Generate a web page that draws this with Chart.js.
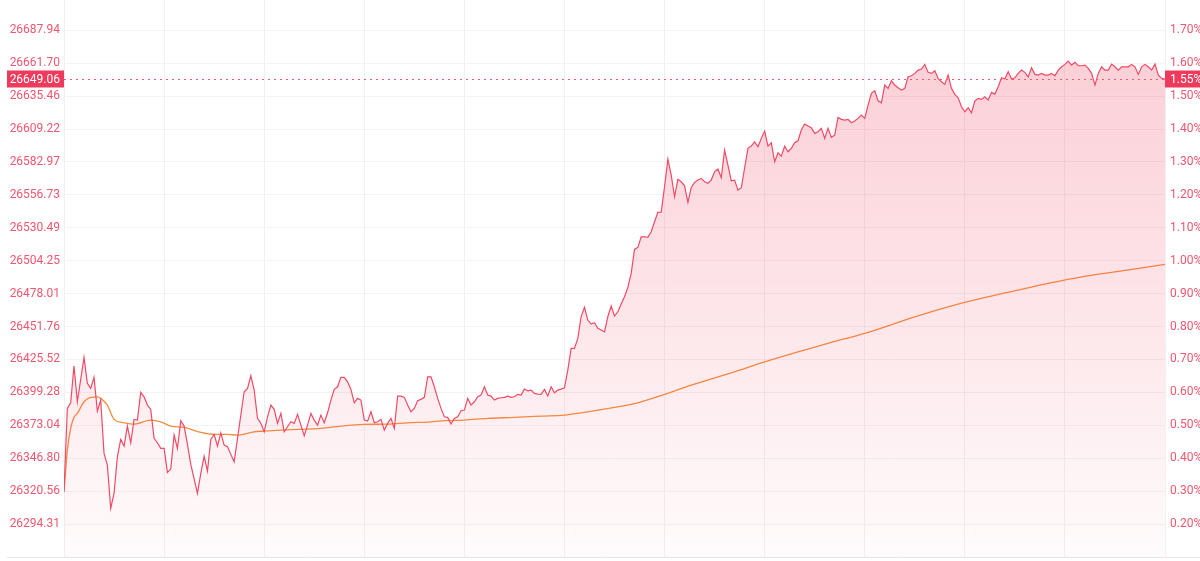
<!DOCTYPE html>
<html><head><meta charset="utf-8">
<script src="https://cdn.jsdelivr.net/npm/chart.js@4/dist/chart.umd.min.js"></script>
<style>html,body{margin:0;padding:0;background:#fff}#wrap{width:1200px;height:561px;position:relative}</style>
</head><body><div id="wrap"><canvas id="c"></canvas></div>
<script>
const prevClose = 26241.83;
const lastLabelPrice = 26649.06;

const minutes = [
0,1,2,3,4,6,7,8,9,10,11,12,13,14,15,16,17,18,19,20,21,22,23,24,25,26,27,28,29,30,
31,32,33,34,35,36,37,38,40,41,42,43,44,45,46,47,48,49,50,51,54,55,56,57,58,59,60,
61,62,63,64,65,66,67,68,69,70,71,72,73,74,75,76,77,78,79,80,81,82,83,84,85,86,87,88,89,90,
91,92,93,94,95,96,97,98,99,100,101,102,103,104,105,106,107,108,109,110,111,112,113,114,115,116,117,118,119,120,
121,122,123,124,125,126,127,128,129,130,131,132,133,134,135,136,137,138,139,140,141,142,143,144,145,146,147,148,149,150,
151,152,153,154,155,156,157,158,159,160,161,162,163,164,165,166,167,168,169,170,171,172,173,174,175,176,177,178,179,180,
181,182,183,184,185,186,187,188,189,190,191,192,193,194,195,196,197,198,199,200,201,202,203,205,206,207,208,209,210,
211,212,213,214,215,216,217,218,219,220,221,222,223,224,225,226,227,228,229,230,231,232,233,234,235,236,237,238,239,240,
241,242,243,244,245,246,247,248,249,250,251,252,253,254,255,256,257,258,259,260,261,262,263,264,265,266,267,268,269,270,
271,272,273,274,275,276,277,278,279,280,281,282,283,284,285,286,287,288,289,290,291,292,293,294,295,296,297,298,299,300,
301,302,303,304,305,306,307,308,309,310,311,312,313,314,315,316,317,318,319,320,321,322,323,324,325,326,327,328,329,330
];

const prices = [
26320.06,26386.54,26391.00,26420.26,26391.80,26427.19,26406.47,26402.48,26411.25,26384.39,26393.15,26350.67,26341.34,26306.82,26318.78,26347.96,26361.83,26356.49,26372.43,26359.12,26377.77,26377.21,26399.29,26395.78,26389.17,26385.74,26362.62,26359.12,26354.65,26354.65,
26335.52,26338.15,26365.25,26354.65,26376.65,26372.43,26357.84,26341.90,26318.78,26334.72,26348.51,26336.56,26361.83,26365.81,26356.49,26367.09,26357.28,26355.93,26349.87,26343.97,26399.77,26402.48,26412.53,26401.13,26378.57,26374.58,26367.89,
26379.84,26389.17,26385.74,26374.58,26382.55,26367.89,26371.87,26375.86,26374.58,26381.76,26373.23,26364.70,26373.23,26382.55,26377.21,26373.23,26381.20,26375.06,26383.03,26393.15,26401.68,26403.76,26411.25,26411.25,26407.74,26401.68,26391.00,26394.51,26393.15,26377.21,
26376.41,26383.83,26375.06,26375.86,26377.77,26369.24,26374.58,26378.57,26370.60,26396.34,26396.34,26395.31,26389.17,26383.83,26386.54,26392.60,26393.71,26395.31,26411.73,26411.73,26403.76,26394.51,26386.54,26379.84,26379.36,26374.02,26378.57,26379.84,26384.63,26385.18,
26394.51,26389.17,26391.80,26395.78,26397.14,26403.76,26397.14,26396.34,26393.15,26394.51,26394.99,26395.31,26396.34,26395.31,26395.78,26397.70,26397.14,26401.92,26400.57,26401.13,26398.50,26397.94,26397.70,26401.68,26396.34,26403.76,26398.97,26401.13,26401.92,26402.96,
26417.07,26434.37,26434.37,26442.34,26459.56,26467.05,26456.93,26453.74,26454.77,26450.31,26448.95,26447.60,26459.56,26468.09,26460.11,26463.54,26469.68,26475.50,26482.99,26494.15,26513.28,26514.88,26523.33,26523.33,26522.85,26527.31,26535.28,26542.78,26543.02,26563.18,
26585.26,26572.51,26555.21,26569.08,26567.17,26563.98,26550.75,26562.71,26566.69,26568.52,26569.88,26567.17,26565.90,26568.52,26575.14,26577.29,26570.36,26592.44,26580.48,26567.97,26568.52,26560.55,26562.39,26593.80,26595.63,26599.05,26595.07,26601.77,26607.58,
26595.63,26598.26,26583.11,26590.29,26587.66,26595.63,26591.08,26593.80,26598.26,26599.85,26608.38,26613.16,26611.57,26610.21,26605.75,26607.03,26609.74,26601.77,26609.74,26602.56,26604.40,26618.51,26616.91,26616.35,26616.91,26614.20,26615.56,26617.71,26620.34,26617.71,
26628.31,26637.64,26639.71,26631.74,26630.14,26644.25,26641.62,26647.68,26644.25,26642.10,26640.27,26641.62,26650.87,26651.67,26653.58,26656.21,26657.01,26660.75,26654.38,26653.58,26655.65,26649.59,26646.88,26644.81,26652.22,26641.62,26636.84,26634.13,26626.96,26622.97,
26626.16,26622.17,26631.50,26633.65,26632.85,26634.93,26632.30,26638.43,26637.08,26642.90,26650.07,26649.04,26654.85,26649.04,26650.07,26653.58,26656.21,26654.38,26650.63,26658.04,26652.78,26652.22,26653.58,26652.22,26652.22,26653.58,26651.67,26656.21,26658.84,26660.75,
26663.38,26660.20,26662.35,26659.64,26659.64,26660.20,26657.56,26653.58,26644.25,26653.58,26658.84,26656.21,26656.21,26660.99,26658.84,26656.21,26658.84,26658.84,26658.84,26660.75,26658.84,26652.78,26658.84,26660.75,26658.84,26656.21,26660.99,26652.22,26649.59,26649.06
];

const avgMinutes = [0,1,2,3,4,6,8,10,11,13,15,18,21,26,29,32,36,41,45,49,52,57,60,65,70,77,83,90,97,103,110,113,120,127,135,143,150,155,165,172,180,188,200,210,220,230,240,255,265,275,285,295,305,315,330];
const avgPrices = [26320.06,26353.30,26370.59,26379.36,26382.55,26391.80,26395.31,26395.78,26394.51,26389.17,26377.77,26375.06,26374.02,26377.21,26375.86,26372.43,26371.39,26367.41,26365.81,26365.81,26365.25,26367.89,26368.45,26369.24,26369.80,26370.59,26372.43,26373.78,26374.02,26375.06,26375.86,26376.65,26377.21,26378.57,26379.36,26380.40,26381.20,26383.03,26387.33,26391.00,26397.70,26405.11,26414.92,26423.68,26431.66,26439.15,26446.32,26459.56,26467.53,26474.22,26480.28,26486.18,26491.44,26495.43,26501.33];

const leftTicks = [26294.31,26320.56,26346.80,26373.04,26399.28,26425.52,26451.76,26478.01,26504.25,26530.49,26556.73,26582.97,26609.22,26635.46,26661.70,26687.94];
const rightTickLabels = ['0.20%','0.30%','0.40%','0.50%','0.60%','0.70%','0.80%','0.90%','1.00%','1.10%','1.20%','1.30%','1.40%','1.50%','1.60%','1.70%'];
const gridMinutes = [0,30,60,90,120,150,180,210,240,270,300,330];
const yMin = 26268.07, yMax = 26712.07;

const labelColor = '#f0566f';
const tickFont = {family:'Roboto', size:12};

function noPad(s){ s.paddingTop = 0; s.paddingBottom = 0; s.paddingLeft = 0; s.paddingRight = 0; }

const overlay = {
  id:'overlay',
  afterDraw(chart){
    const {ctx, chartArea:a, scales:{y}} = chart;
    const py = Math.round(y.getPixelForValue(lastLabelPrice)) + 0.5;
    ctx.save();
    ctx.strokeStyle = '#e6e6e6'; ctx.lineWidth = 1;
    ctx.beginPath(); ctx.moveTo(7, 557.5); ctx.lineTo(1200, 557.5); ctx.stroke();
    ctx.setLineDash([2,4]); ctx.strokeStyle = '#f05a74';
    ctx.beginPath(); ctx.moveTo(a.left, py); ctx.lineTo(a.right, py); ctx.stroke();
    ctx.setLineDash([]);
    ctx.fillStyle = '#f03a5b';
    ctx.fillRect(7, py-9, a.left-7, 17);
    ctx.fillRect(a.right, py-9, 1200-a.right, 17);
    ctx.fillStyle = '#ffffff'; ctx.font = '12px Roboto'; ctx.textBaseline = 'middle';
    ctx.textAlign = 'right'; ctx.fillText(lastLabelPrice.toFixed(2), a.left-4, py);
    ctx.textAlign = 'left'; ctx.fillText(((lastLabelPrice/prevClose-1)*100).toFixed(2)+'%', a.right+5, py);
    ctx.restore();
  }
};

new Chart(document.getElementById('c'), {
  type:'line',
  data:{
    datasets:[
      {
        data: minutes.map((m,i)=>({x:m, y:prices[i]})),
        borderColor:'rgb(240,74,102)', borderWidth:1.2, pointRadius:0, tension:0,
        fill:'start', yAxisID:'y', order:1,
        backgroundColor:(c)=>{
          const a = c.chart.chartArea; if(!a) return 'rgba(240,60,90,0.1)';
          const g = c.chart.ctx.createLinearGradient(0,a.top,0,a.bottom);
          g.addColorStop(0,'rgba(240,60,90,0.27)');
          g.addColorStop(1,'rgba(240,60,90,0.02)');
          return g;
        }
      },
      {
        data: avgMinutes.map((m,i)=>({x:m, y:avgPrices[i]})),
        borderColor:'rgb(245,142,62)', borderWidth:1.3, pointRadius:0,
        cubicInterpolationMode:'monotone',
        fill:false, yAxisID:'y', order:2
      }
    ]
  },
  options:{
    responsive:true, maintainAspectRatio:false, animation:false,
    layout:{padding:0},
    plugins:{legend:{display:false}, tooltip:{enabled:false}},
    scales:{
      x:{type:'linear', min:0, max:330,
        afterBuildTicks:s=>{s.ticks = gridMinutes.map(v=>({value:v}));},
        ticks:{display:false}, grid:{color:'#f1f1f1', drawTicks:false}, border:{display:false},
        afterFit:s=>{s.height=4; noPad(s);}},
      y:{position:'left', min:yMin, max:yMax,
        afterBuildTicks:s=>{s.ticks = leftTicks.map(v=>({value:v}));},
        ticks:{autoSkip:false, padding:4, color:labelColor, font:tickFont, callback:(v,i)=>leftTicks[i].toFixed(2)},
        grid:{color:'#f3f3f3', drawTicks:false}, border:{display:false},
        afterFit:s=>{s.width=64; noPad(s);}},
      y2:{position:'right', min:yMin, max:yMax,
        afterBuildTicks:s=>{s.ticks = leftTicks.map(v=>({value:v}));},
        ticks:{autoSkip:false, padding:5, color:labelColor, font:tickFont, callback:(v,i)=>rightTickLabels[i]},
        grid:{display:false, drawTicks:false}, border:{display:false},
        afterFit:s=>{s.width=35; noPad(s);}}
    }
  },
  plugins:[overlay]
});
</script></body></html>
